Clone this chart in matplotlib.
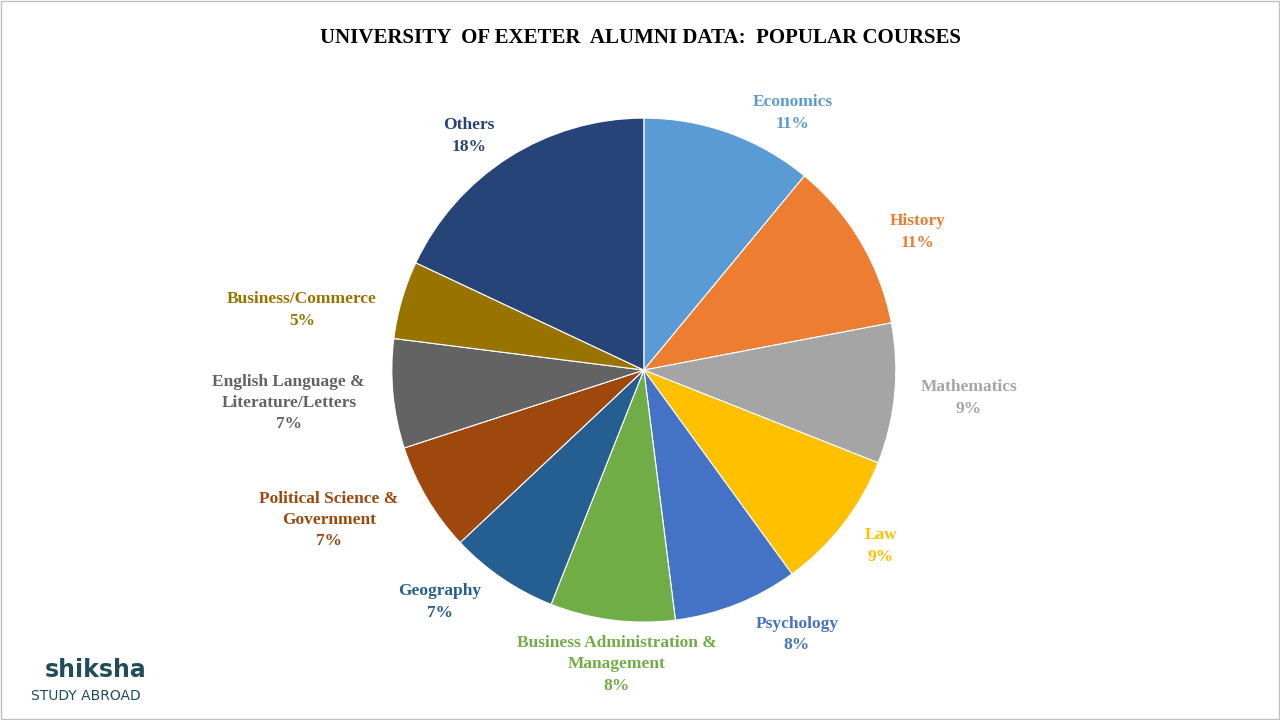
import matplotlib
matplotlib.use("Agg")
import matplotlib.pyplot as plt

courses = ["Economics", "History", "Mathematics", "Law", "Psychology",
           "Business Administration &\nManagement", "Geography",
           "Political Science &\nGovernment", "English Language &\nLiterature/Letters",
           "Business/Commerce", "Others"]
shares = [11, 11, 9, 9, 8, 8, 7, 7, 7, 5, 18]
colors = ["#5B9BD5", "#ED7D31", "#A5A5A5", "#FFC000", "#4472C4", "#70AD47",
          "#255E91", "#9E480E", "#636363", "#997300", "#264478"]
# label anchor positions in pie-radius units (layout/style)
label_pos = [(0.59, 1.02), (1.087, 0.548), (1.29, -0.111), (0.94, -0.698),
             (0.607, -1.05), (-0.107, -1.167), (-0.81, -0.92), (-1.25, -0.595),
             (-1.409, -0.131), (-1.357, 0.238), (-0.694, 0.929)]

plt.rcParams['font.family'] = ['Liberation Serif', 'DejaVu Serif']
fig = plt.figure(figsize=(12.8, 7.2), dpi=100)
fig.patches.append(plt.Rectangle((0.001, 0.001), 0.998, 0.998, transform=fig.transFigure,
                                 fill=False, edgecolor="#BFBFBF", lw=1))
ax = fig.add_axes([0.306, 0.136, 0.394, 0.7])
ax.pie(shares, colors=colors, startangle=90, counterclock=False,
       wedgeprops=dict(edgecolor="white", linewidth=0.8))
ax.set_xlim(-1, 1)
ax.set_ylim(-1, 1)
ax.set_aspect("equal")
for name, s, c, (x, y) in zip(courses, shares, colors, label_pos):
    ax.text(x, y, f"{name}\n{s}%", ha="center", va="center", color=c,
            fontsize=12.5, fontweight="bold", linespacing=1.45, clip_on=False)

fig.text(0.5, 0.947, "UNIVERSITY  OF EXETER  ALUMNI DATA:  POPULAR COURSES",
         ha="center", va="center", fontsize=15, fontweight="bold")
fig.text(0.035, 0.07, "shiksha", fontsize=17, fontweight="bold", color="#1F4E5A",
         family="DejaVu Sans", va="center")
fig.text(0.024, 0.033, "STUDY ABROAD", fontsize=10, color="#1F4E5A",
         family="DejaVu Sans", va="center")
fig.savefig("out.png", dpi=100)
